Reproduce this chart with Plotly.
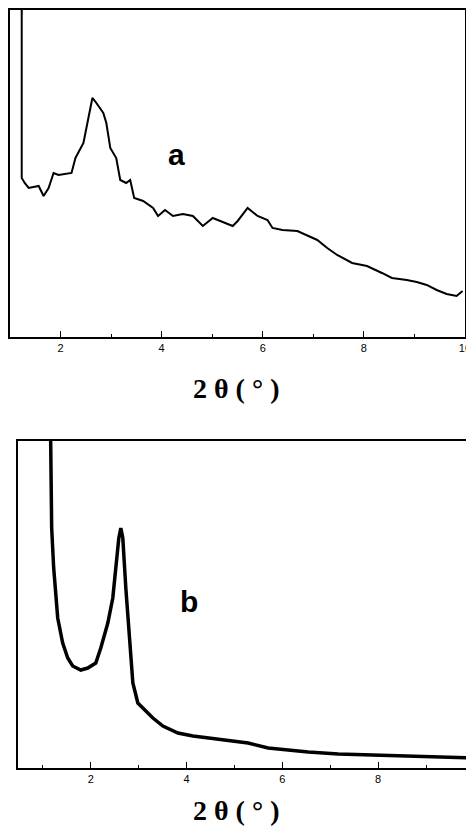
import plotly.graph_objects as go

# curve a: 2theta, intensity (arbitrary units)
a_x_px = [13,13,16,20,30,35,40,45,50,63,67,75,80,84,88,95,98,102,108,112,118,122,126,135,145,150,157,165,175,185,195,205,215,225,230,240,250,260,265,275,290,310,320,330,345,360,375,385,400,410,420,430,440,450,456]
a_y_px = [0,170,175,180,178,188,180,165,167,165,150,135,110,90,95,105,115,140,150,172,175,172,190,193,200,208,202,208,206,208,218,210,214,218,213,200,208,212,220,222,223,232,240,247,255,258,265,270,272,274,277,282,286,288,283]
a_theta = [round(2 + (p - 52) / 50.8, 3) for p in a_x_px]
a_int = [329 - p for p in a_y_px]

b_x_px = [43,44,46,50,55,60,65,73,80,88,93,100,105,108,111,113,115,118,122,125,130,135,145,155,170,185,200,215,225,240,260,280,300,330,360,400,430,466]
b_y_px = [433,520,560,610,635,650,658,662,660,655,640,615,590,560,530,520,530,580,640,675,695,700,710,718,725,728,730,732,733,735,740,742,744,746,747,748,749,750]
b_theta = [round(2 + (p - 83) / 47.8, 3) for p in b_x_px]
b_int = [760 - p for p in b_y_px]

tickvals = [2, 4, 6, 8, 10]
ticklabels = ["2", "4", "6", "8", "10"]

fig = go.Figure()
fig.add_trace(go.Scatter(x=a_theta, y=a_int, mode="lines", line=dict(color="black", width=2), xaxis="x", yaxis="y"))
fig.add_trace(go.Scatter(x=b_theta, y=b_int, mode="lines", line=dict(color="black", width=3.5), xaxis="x2", yaxis="y2"))

ax = dict(showline=True, mirror=True, linecolor="black", linewidth=2, ticks="inside", ticklen=6,
          tickcolor="black", tickvals=tickvals, ticktext=ticklabels, showgrid=False, zeroline=False,
          automargin=False, tickfont=dict(family="Arial", size=11, color="black"),
          minor=dict(ticks="inside", ticklen=3, tickcolor="black", tickvals=[1, 3, 5, 7, 9]))
ay = dict(showline=True, mirror=True, linecolor="black", linewidth=2, showticklabels=False, ticks="",
          showgrid=False, zeroline=False, automargin=False, range=[0, 327])

fig.update_layout(
    width=474, height=832, margin=dict(l=0, r=0, t=0, b=0, autoexpand=False),
    plot_bgcolor="white", paper_bgcolor="white", showlegend=False,
    xaxis=dict(ax, domain=[0.0042, 0.964], range=[1.0, 10], anchor="y"),
    yaxis=dict(ay, domain=[0.6046, 0.9976], anchor="x"),
    xaxis2=dict(ax, domain=[0.021, 0.983], range=[0.48, 10], anchor="y2"),
    yaxis2=dict(ay, domain=[0.0865, 0.4796], anchor="x2"),
    annotations=[
        dict(text="<b>2 θ ( ° )</b>", x=228, y=832-380, xref="paper", yref="paper", showarrow=False,
             font=dict(family="Liberation Serif", size=28, color="black")),
        dict(text="<b>2 θ ( ° )</b>", x=228, y=832-820, xref="paper", yref="paper", showarrow=False,
             font=dict(family="Liberation Serif", size=28, color="black")),
        dict(text="<b>a</b>", x=168, y=832-128, xref="paper", yref="paper", showarrow=False,
             font=dict(family="Arial", size=30, color="black")),
        dict(text="<b>b</b>", x=181, y=832-612, xref="paper", yref="paper", showarrow=False,
             font=dict(family="Arial", size=30, color="black")),
    ],
)
for an in fig.layout.annotations:
    an.x = an.x / 474
    an.y = an.y / 832

fig.write_html("out.html")
